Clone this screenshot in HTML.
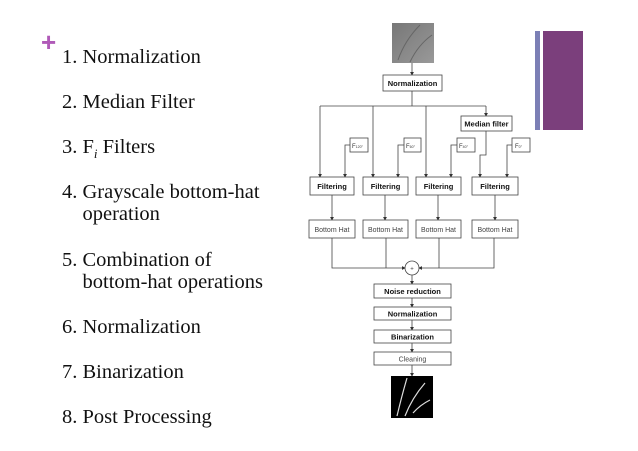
<!DOCTYPE html>
<html><head><meta charset="utf-8"><style>
body{margin:0;width:638px;height:451px;background:#fff;position:relative;overflow:hidden;font-family:"Liberation Serif",serif;}
.t{position:absolute;left:62px;font-size:20.5px;color:#111;line-height:22px;white-space:nowrap}
svg text{font-family:"Liberation Sans",sans-serif;}
</style></head><body>
<div style="position:absolute;left:535px;top:31px;width:5px;height:99px;background:#7b7fb5"></div>
<div style="position:absolute;left:543px;top:31px;width:40px;height:99px;background:#7b3f7c"></div>
<div style="position:absolute;left:41px;top:29px;font-size:26px;font-weight:bold;color:#b05ab8;font-family:'Liberation Sans',sans-serif;line-height:26px">+</div>
<div class="t" style="top:46px">1. Normalization</div>
<div class="t" style="top:91px">2. Median Filter</div>
<div class="t" style="top:136px">3. F<sub style="font-size:13px;font-style:italic">i</sub> Filters</div>
<div class="t" style="top:181px">4. Grayscale bottom-hat</div>
<div class="t" style="top:203px">&nbsp;&nbsp;&nbsp;&nbsp;operation</div>
<div class="t" style="top:249px">5. Combination of</div>
<div class="t" style="top:271px">&nbsp;&nbsp;&nbsp;&nbsp;bottom-hat operations</div>
<div class="t" style="top:316px">6. Normalization</div>
<div class="t" style="top:361px">7. Binarization</div>
<div class="t" style="top:406px">8. Post Processing</div>
<svg width="638" height="451" style="position:absolute;left:0;top:0">
<defs><marker id="a" markerWidth="5" markerHeight="5" refX="4" refY="2.5" orient="auto"><path d="M0,0L5,2.5L0,5z" fill="#333"/></marker>
<linearGradient id="g" x1="0" y1="0" x2="1" y2="1"><stop offset="0" stop-color="#777"/><stop offset="1" stop-color="#999"/></linearGradient></defs>
<rect x="392" y="23" width="42" height="40" fill="url(#g)"/>
<path d="M398,60 Q405,40 420,25 M410,62 Q418,45 432,35" stroke="#666" fill="none"/>
<g stroke="#444" stroke-width="0.8" fill="none">
<line x1="412" y1="63" x2="412" y2="75" marker-end="url(#a)"/>
<rect x="383" y="75" width="59" height="16" fill="#fff"/>
<line x1="412" y1="91" x2="412" y2="106"/>
<line x1="320" y1="106" x2="486" y2="106"/>
<line x1="320" y1="106" x2="320" y2="177" marker-end="url(#a)"/>
<line x1="373" y1="106" x2="373" y2="177" marker-end="url(#a)"/>
<line x1="426" y1="106" x2="426" y2="177" marker-end="url(#a)"/>
<line x1="486" y1="106" x2="486" y2="116" marker-end="url(#a)"/>
<rect x="461" y="116" width="51" height="15" fill="#fff"/>
<polyline points="486,131 486,155 480,155 480,177" marker-end="url(#a)"/>
<rect x="350" y="138" width="18" height="14" fill="#fff"/>
<rect x="404" y="138" width="17" height="14" fill="#fff"/>
<rect x="457" y="138" width="18" height="14" fill="#fff"/>
<rect x="512" y="138" width="18" height="14" fill="#fff"/>
<polyline points="350,145 345,145 345,177" marker-end="url(#a)"/>
<polyline points="404,145 398,145 398,177" marker-end="url(#a)"/>
<polyline points="457,145 451,145 451,177" marker-end="url(#a)"/>
<polyline points="512,145 507,145 507,177" marker-end="url(#a)"/>
<rect x="310" y="177" width="44" height="18" fill="#fff"/>
<rect x="363" y="177" width="45" height="18" fill="#fff"/>
<rect x="416" y="177" width="45" height="18" fill="#fff"/>
<rect x="472" y="177" width="46" height="18" fill="#fff"/>
<line x1="332" y1="195" x2="332" y2="220" marker-end="url(#a)"/>
<line x1="385" y1="195" x2="385" y2="220" marker-end="url(#a)"/>
<line x1="438" y1="195" x2="438" y2="220" marker-end="url(#a)"/>
<line x1="495" y1="195" x2="495" y2="220" marker-end="url(#a)"/>
<rect x="309" y="220" width="46" height="18" fill="#fff"/>
<rect x="363" y="220" width="45" height="18" fill="#fff"/>
<rect x="416" y="220" width="45" height="18" fill="#fff"/>
<rect x="472" y="220" width="46" height="18" fill="#fff"/>
<polyline points="332,238 332,268 405,268" marker-end="url(#a)"/>
<polyline points="386,238 386,268"/>
<polyline points="439,238 439,268"/>
<polyline points="494,238 494,268 419,268" marker-end="url(#a)"/>
<circle cx="412" cy="268" r="7" fill="#fff"/>
<line x1="412" y1="275" x2="412" y2="284" marker-end="url(#a)"/>
<rect x="374" y="284" width="77" height="14" fill="#fff"/>
<line x1="412" y1="298" x2="412" y2="307" marker-end="url(#a)"/>
<rect x="374" y="307" width="77" height="13" fill="#fff"/>
<line x1="412" y1="320" x2="412" y2="330" marker-end="url(#a)"/>
<rect x="374" y="330" width="77" height="13" fill="#fff"/>
<line x1="412" y1="343" x2="412" y2="352" marker-end="url(#a)"/>
<rect x="374" y="352" width="77" height="13" fill="#fff"/>
<line x1="412" y1="365" x2="412" y2="376" marker-end="url(#a)"/>
</g>
<rect x="391" y="376" width="42" height="42" fill="#000"/>
<path d="M407,378 Q402,395 397,416 M425,383 Q412,398 405,416 M430,400 Q420,405 413,413" stroke="#ddd" stroke-width="1.2" fill="none"/>
<g font-size="7.5" text-anchor="middle" fill="#111" font-weight="bold">
<text x="412.5" y="86">Normalization</text>
<text x="486.5" y="126.5">Median filter</text>
<text x="332" y="189">Filtering</text><text x="385.5" y="189">Filtering</text><text x="438.5" y="189">Filtering</text><text x="495" y="189">Filtering</text>
<text x="412.5" y="294">Noise reduction</text>
<text x="412.5" y="316.5">Normalization</text>
<text x="412.5" y="339.5">Binarization</text>
</g>
<g font-size="7" text-anchor="middle" fill="#444">
<text x="332" y="232">Bottom Hat</text><text x="385.5" y="232">Bottom Hat</text><text x="438.5" y="232">Bottom Hat</text><text x="495" y="232">Bottom Hat</text>
<text x="412.5" y="361.5">Cleaning</text>
<text x="412" y="270.5" font-size="6">+</text>
</g>
<g font-size="6" fill="#333"><text x="352" y="148">F<tspan font-size="3.5">120°</tspan></text><text x="406" y="148">F<tspan font-size="3.5">60°</tspan></text><text x="459" y="148">F<tspan font-size="3.5">40°</tspan></text><text x="515" y="148">F<tspan font-size="3.5">0°</tspan></text></g>
</svg>
</body></html>
